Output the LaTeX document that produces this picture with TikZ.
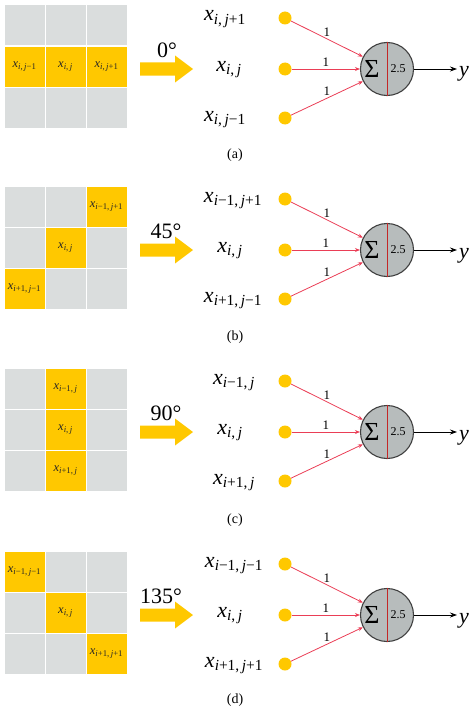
\documentclass[tikz,border=0pt]{standalone}
\usepackage{fontspec}
\setmainfont{Liberation Serif}
\usetikzlibrary{arrows.meta}
\definecolor{cellgray}{RGB}{218,221,221}
\definecolor{gold}{RGB}{255,200,0}
\definecolor{wred}{RGB}{234,62,86}
\definecolor{divred}{RGB}{196,38,38}
\definecolor{sumgray}{RGB}{183,188,188}
\newcommand{\xs}[2]{\textit{x}\textsubscript{\textit{i}#1,\,\textit{j}#2}}
\begin{document}
\begin{tikzpicture}[x=1pt,y=-1pt,
        cell/.style={fill=cellgray,draw=white,line width=1pt},
        hot/.style={fill=gold,draw=white,line width=0.6pt},
        celltxt/.style={font=\fontsize{12.5}{12.5}\selectfont,text=black!85,inner sep=0pt},
        inlab/.style={font=\fontsize{22}{22}\selectfont,anchor=base},
        dot/.style={circle,fill=gold,minimum size=13pt,inner sep=0pt},
        sumnode/.style={circle,draw=black!75,line width=1.1pt,fill=sumgray,minimum size=53pt,inner sep=0pt},
        wire/.style={draw=wred,line width=0.8pt,-{Stealth[length=5pt,width=4pt]}},
        wt/.style={font=\fontsize{13}{13}\selectfont,text=black,above,inner sep=2pt},
        outwire/.style={line width=0.8pt,-{Stealth[length=7pt,width=5pt]}},
        angletxt/.style={font=\fontsize{22}{22}\selectfont,inner sep=0pt},
        capt/.style={font=\fontsize{14}{14}\selectfont}]
        \useasboundingbox (0,0) rectangle (474,709);

        %Panneau (a)
        \begin{scope}[shift={(0,5)}]
        \foreach \c in {0,1,2} \foreach \r in {0,1,2} \path[cell] (4+41*\c,41*\r) rectangle ++(41,41);
        \path[hot] (4,41) rectangle ++(41,41); \path[hot] (45,41) rectangle ++(41,41); \path[hot] (86,41) rectangle ++(41,41);
        \node[celltxt] (ac1) at (24.5,61.5) {\xs{}{−1}}; \node[celltxt] (ac2) at (65.5,61.5) {\xs{}{}}; \node[celltxt] (ac3) at (106.5,61.5) {\xs{}{+1}};
        \fill[gold] (140,57.5) -- (175,57.5) -- (175,50.5) -- (193,64) -- (175,77.5) -- (175,70.5) -- (140,70.5) -- cycle;
        \node[angletxt] (aang) at (167,45) {0°};
        \node[inlab] (ax1) at (225,16) {\xs{}{+1}}; \node[inlab] (ax2) at (229,66) {\xs{}{}}; \node[inlab] (ax3) at (225,116) {\xs{}{−1}};
        \node[dot] (a1) at (285,13) {}; \node[dot] (a2) at (285,64) {}; \node[dot] (a3) at (285,113) {};
        \node[sumnode] (an) at (387,64) {};
        \draw[divred,line width=1pt] (an.north) -- (an.south);
        \node[font=\fontsize{26}{26}\selectfont,inner sep=0pt] (asig) at (372,64) {Σ}; \node[font=\fontsize{12}{12}\selectfont,inner sep=0pt] (ath) at (398,64) {2.5};
        \draw[wire] (a1) -- node[wt] (aw1) {1} (an.153); \draw[wire] (a2) -- node[wt] (aw2) {1} (an.west); \draw[wire] (a3) -- node[wt] (aw3) {1} (an.207);
        \coordinate (ao) at (457,64); \draw[outwire] (an.east) -- (ao);
        \node[inlab,anchor=base west,inner sep=0pt] (ay) at (459,72) {\textit{y}};
        \node[capt] (acap) at (235,150) {(a)};
        \end{scope}

        %Panneau (b)
        \begin{scope}[shift={(0,186)}]
        \foreach \c in {0,1,2} \foreach \r in {0,1,2} \path[cell] (4+41*\c,41*\r) rectangle ++(41,41);
        \path[hot] (86,0) rectangle ++(41,41); \path[hot] (45,41) rectangle ++(41,41); \path[hot] (4,82) rectangle ++(41,41);
        \node[celltxt] (bc1) at (106.5,20.5) {\xs{−1}{+1}}; \node[celltxt] (bc2) at (65.5,61.5) {\xs{}{}}; \node[celltxt] (bc3) at (24.5,102.5) {\xs{+1}{−1}};
        \fill[gold] (140,57.5) -- (175,57.5) -- (175,50.5) -- (193,64) -- (175,77.5) -- (175,70.5) -- (140,70.5) -- cycle;
        \node[angletxt] (bang) at (166,45) {45°};
        \node[inlab] (bx1) at (233,16) {\xs{−1}{+1}}; \node[inlab] (bx2) at (230,66) {\xs{}{}}; \node[inlab] (bx3) at (233,116) {\xs{+1}{−1}};
        \node[dot] (b1) at (285,13) {}; \node[dot] (b2) at (285,64) {}; \node[dot] (b3) at (285,113) {};
        \node[sumnode] (bn) at (387,64) {};
        \draw[divred,line width=1pt] (bn.north) -- (bn.south);
        \node[font=\fontsize{26}{26}\selectfont,inner sep=0pt] (bsig) at (372,64) {Σ}; \node[font=\fontsize{12}{12}\selectfont,inner sep=0pt] (bth) at (398,64) {2.5};
        \draw[wire] (b1) -- node[wt] (bw1) {1} (bn.153); \draw[wire] (b2) -- node[wt] (bw2) {1} (bn.west); \draw[wire] (b3) -- node[wt] (bw3) {1} (bn.207);
        \coordinate (bo) at (457,64); \draw[outwire] (bn.east) -- (bo);
        \node[inlab,anchor=base west,inner sep=0pt] (by) at (459,72) {\textit{y}};
        \node[capt] (bcap) at (235,151) {(b)};
        \end{scope}

        %Panneau (c)
        \begin{scope}[shift={(0,368)}]
        \foreach \c in {0,1,2} \foreach \r in {0,1,2} \path[cell] (4+41*\c,41*\r) rectangle ++(41,41);
        \path[hot] (45,0) rectangle ++(41,41); \path[hot] (45,41) rectangle ++(41,41); \path[hot] (45,82) rectangle ++(41,41);
        \node[celltxt] (cc1) at (65.5,20.5) {\xs{−1}{}}; \node[celltxt] (cc2) at (65.5,61.5) {\xs{}{}}; \node[celltxt] (cc3) at (65.5,102.5) {\xs{+1}{}};
        \fill[gold] (140,57.5) -- (175,57.5) -- (175,50.5) -- (193,64) -- (175,77.5) -- (175,70.5) -- (140,70.5) -- cycle;
        \node[angletxt] (cang) at (166,45) {90°};
        \node[inlab] (cx1) at (234,16) {\xs{−1}{}}; \node[inlab] (cx2) at (230,66) {\xs{}{}}; \node[inlab] (cx3) at (234,116) {\xs{+1}{}};
        \node[dot] (c1) at (285,13) {}; \node[dot] (c2) at (285,64) {}; \node[dot] (c3) at (285,113) {};
        \node[sumnode] (cn) at (387,64) {};
        \draw[divred,line width=1pt] (cn.north) -- (cn.south);
        \node[font=\fontsize{26}{26}\selectfont,inner sep=0pt] (csig) at (372,64) {Σ}; \node[font=\fontsize{12}{12}\selectfont,inner sep=0pt] (cth) at (398,64) {2.5};
        \draw[wire] (c1) -- node[wt] (cw1) {1} (cn.153); \draw[wire] (c2) -- node[wt] (cw2) {1} (cn.west); \draw[wire] (c3) -- node[wt] (cw3) {1} (cn.207);
        \coordinate (co) at (457,64); \draw[outwire] (cn.east) -- (co);
        \node[inlab,anchor=base west,inner sep=0pt] (cy) at (459,72) {\textit{y}};
        \node[capt] (ccap) at (235,152) {(c)};
        \end{scope}

        %Panneau (d)
        \begin{scope}[shift={(0,551)}]
        \foreach \c in {0,1,2} \foreach \r in {0,1,2} \path[cell] (4+41*\c,41*\r) rectangle ++(41,41);
        \path[hot] (4,0) rectangle ++(41,41); \path[hot] (45,41) rectangle ++(41,41); \path[hot] (86,82) rectangle ++(41,41);
        \node[celltxt] (dc1) at (24.5,20.5) {\xs{−1}{−1}}; \node[celltxt] (dc2) at (65.5,61.5) {\xs{}{}}; \node[celltxt] (dc3) at (106.5,102.5) {\xs{+1}{+1}};
        \fill[gold] (140,57.5) -- (175,57.5) -- (175,50.5) -- (193,64) -- (175,77.5) -- (175,70.5) -- (140,70.5) -- cycle;
        \node[angletxt] (dang) at (161,45) {135°};
        \node[inlab] (dx1) at (234,16) {\xs{−1}{−1}}; \node[inlab] (dx2) at (230,66) {\xs{}{}}; \node[inlab] (dx3) at (234,116) {\xs{+1}{+1}};
        \node[dot] (d1) at (285,13) {}; \node[dot] (d2) at (285,64) {}; \node[dot] (d3) at (285,113) {};
        \node[sumnode] (dn) at (387,64) {};
        \draw[divred,line width=1pt] (dn.north) -- (dn.south);
        \node[font=\fontsize{26}{26}\selectfont,inner sep=0pt] (dsig) at (372,64) {Σ}; \node[font=\fontsize{12}{12}\selectfont,inner sep=0pt] (dth) at (398,64) {2.5};
        \draw[wire] (d1) -- node[wt] (dw1) {1} (dn.153); \draw[wire] (d2) -- node[wt] (dw2) {1} (dn.west); \draw[wire] (d3) -- node[wt] (dw3) {1} (dn.207);
        \coordinate (do) at (457,64); \draw[outwire] (dn.east) -- (do);
        \node[inlab,anchor=base west,inner sep=0pt] (dy) at (459,72) {\textit{y}};
        \node[capt] (dcap) at (235,149) {(d)};
        \end{scope}

        \end{tikzpicture}
\end{document}
